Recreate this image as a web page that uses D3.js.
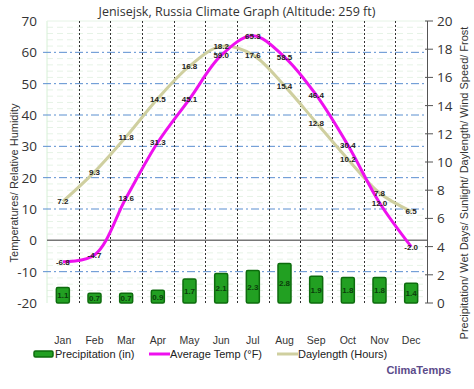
<!DOCTYPE html>
<html>
<head>
<meta charset="utf-8">
<script src="https://cdn.jsdelivr.net/npm/d3@7"></script>
<style>
	body { margin: 0; background: #fff; }
	svg { display: block; font-family: 'Liberation Sans', Arial, sans-serif; }
	.tick-label { font-family: 'Open Sans', sans-serif; font-size: 13.5px; fill: #333; }
	.point-label { font-size: 8px; font-weight: bold; fill: #222; }
</style>
</head>
<body>
<div class="container"></div>
<script>
var months = ['Jan', 'Feb', 'Mar', 'Apr', 'May', 'Jun', 'Jul', 'Aug', 'Sep', 'Oct', 'Nov', 'Dec'];
var precipitation = [1.1, 0.7, 0.7, 0.9, 1.7, 2.1, 2.3, 2.8, 1.9, 1.8, 1.8, 1.4];
var avgTemp = [-6.8, -4.7, 13.6, 31.3, 45.1, 59.0, 65.3, 58.5, 46.4, 30.4, 12.0, -2.0];
var daylength = [7.2, 9.3, 11.8, 14.5, 16.8, 18.2, 17.6, 15.4, 12.8, 10.2, 7.8, 6.5];
var leftTicks = [-20, -10, 0, 10, 20, 30, 40, 50, 60, 70];
var rightTicks = [0, 2, 4, 6, 8, 10, 12, 14, 16, 18, 20];

var width = 474,
	height = 389,
	plotLeft = 47,
	plotRight = 427,
	plotTop = 21,
	plotBottom = 303;

var svg = d3.select('.container')
	.append('svg')
	.attr('width', width)
	.attr('height', height);

var x = d3.scaleBand()
	.domain(months)
	.range([plotLeft, plotRight]);

var yLeft = d3.scaleLinear()
	.domain([-20, 70])
	.range([plotBottom, plotTop]);

var yRight = d3.scaleLinear()
	.domain([0, 20])
	.range([plotBottom, plotTop]);

var cx = function (d, i) { return x(months[i]) + x.bandwidth() / 2; };

// title
svg.append('text')
	.attr('x', 237)
	.attr('y', 16)
	.attr('text-anchor', 'middle')
	.style('font-family', "'Open Sans', sans-serif")
	.style('font-size', '12.5px')
	.style('fill', '#333')
	.text('Jenisejsk, Russia Climate Graph (Altitude: 259 ft)');

// minor grid, every 2 units
var grid = svg.append('g').classed('grid', true);

grid.selectAll('.minor')
	.data(d3.range(-18, 70, 2).filter(function (v) { return v % 10 !== 0; }))
	.enter().append('line')
	.attr('x1', plotLeft)
	.attr('x2', plotRight)
	.attr('y1', function (d) { return yLeft(d); })
	.attr('y2', function (d) { return yLeft(d); })
	.style('stroke', '#e6f3e6')
	.style('stroke-dasharray', '6,4');

grid.append('line')
	.attr('x1', plotLeft).attr('x2', plotLeft)
	.attr('y1', plotTop).attr('y2', plotBottom)
	.style('stroke', '#d6f0d6');

grid.append('line')
	.attr('x1', plotLeft).attr('x2', plotRight)
	.attr('y1', plotTop).attr('y2', plotTop)
	.style('stroke', '#e6f4e6');

// major grid
grid.selectAll('.major')
	.data(leftTicks.filter(function (v) { return v !== 0 && v !== 70 && v !== -20; }))
	.enter().append('line')
	.attr('x1', plotLeft - 4)
	.attr('x2', plotRight)
	.attr('y1', function (d) { return yLeft(d); })
	.attr('y2', function (d) { return yLeft(d); })
	.style('stroke', '#5b8fd0')
	.style('stroke-dasharray', '8,3,2,3');

// month separators
grid.selectAll('.sep')
	.data(months.slice(1))
	.enter().append('line')
	.attr('x1', function (d) { return Math.round(x(d)) + 0.5; })
	.attr('x2', function (d) { return Math.round(x(d)) + 0.5; })
	.attr('y1', plotTop)
	.attr('y2', plotBottom + 2)
	.style('stroke', '#333')
	.style('stroke-dasharray', '2,2');

// zero line
svg.append('line')
	.attr('x1', plotLeft)
	.attr('x2', plotRight)
	.attr('y1', yLeft(0))
	.attr('y2', yLeft(0))
	.style('stroke', '#777')
	.style('stroke-width', 1.5);

// left tick labels
svg.selectAll('.left-tick')
	.data(leftTicks)
	.enter().append('text')
	.classed('tick-label', true)
	.attr('x', 37)
	.attr('y', function (d) { return yLeft(d) + 5; })
	.attr('text-anchor', 'end')
	.text(function (d) { return d; });

// right axis
var rightAxis = svg.append('g')
	.attr('transform', 'translate(' + plotRight + ',0)');

rightAxis.append('line')
	.attr('x1', 0.5).attr('x2', 0.5)
	.attr('y1', plotTop).attr('y2', plotBottom)
	.style('stroke', '#555');

rightAxis.selectAll('.tick')
	.data(rightTicks)
	.enter().append('line')
	.attr('x1', -2)
	.attr('x2', 6)
	.attr('y1', function (d) { return yRight(d); })
	.attr('y2', function (d) { return yRight(d); })
	.style('stroke', '#555');

rightAxis.selectAll('.tick-label')
	.data(rightTicks)
	.enter().append('text')
	.classed('tick-label', true)
	.attr('x', 10)
	.attr('y', function (d) { return yRight(d) + 5; })
	.text(function (d) { return d; });

// axis titles
svg.append('text')
	.attr('transform', 'translate(18,183) rotate(-90)')
	.attr('text-anchor', 'middle')
	.style('font-size', '11px')
	.style('fill', '#333')
	.text('Temperatures/ Relative Humidity');

svg.append('text')
	.attr('transform', 'translate(468,183) rotate(-90)')
	.attr('text-anchor', 'middle')
	.style('font-size', '11px')
	.style('fill', '#333')
	.text('Precipitation/ Wet Days/ Sunlight/ Daylength/ Wind Speed/ Frost');

// month labels
svg.selectAll('.month')
	.data(months)
	.enter().append('text')
	.attr('x', cx)
	.attr('y', 344)
	.attr('text-anchor', 'middle')
	.style('font-size', '10.5px')
	.style('fill', '#333')
	.text(function (d) { return d; });

// precipitation bars
var barWidth = 13;

svg.selectAll('.bar')
	.data(precipitation)
	.enter().append('rect')
	.attr('x', function (d, i) { return cx(d, i) - barWidth / 2; })
	.attr('y', function (d) { return yRight(d); })
	.attr('width', barWidth)
	.attr('height', function (d) { return yRight(0) - yRight(d); })
	.attr('rx', 1.5)
	.style('fill', '#22a022')
	.style('stroke', '#0d6b0d')
	.style('stroke-width', 1.5);

svg.selectAll('.bar-label')
	.data(precipitation)
	.enter().append('text')
	.classed('point-label', true)
	.attr('x', cx)
	.attr('y', function (d) { return (yRight(d) + yRight(0)) / 2 + 3; })
	.attr('text-anchor', 'middle')
	.style('fill', '#0b3d0b')
	.text(function (d) { return d.toFixed(1); });

// lines
var dayLine = d3.line()
	.x(cx)
	.y(function (d) { return yRight(d); })
	.curve(d3.curveCatmullRom.alpha(0.5));

var tempLine = d3.line()
	.x(cx)
	.y(function (d) { return yLeft(d); })
	.curve(d3.curveCatmullRom.alpha(0.5));

svg.append('path')
	.datum(daylength)
	.attr('d', dayLine)
	.style('fill', 'none')
	.style('stroke', '#cfcf9f')
	.style('stroke-width', 3);

svg.append('path')
	.datum(avgTemp)
	.attr('d', tempLine)
	.style('fill', 'none')
	.style('stroke', '#ee10ee')
	.style('stroke-width', 3);

svg.selectAll('.day-label')
	.data(daylength)
	.enter().append('text')
	.classed('point-label', true)
	.attr('x', cx)
	.attr('y', function (d) { return yRight(d) + 3; })
	.attr('text-anchor', 'middle')
	.text(function (d) { return d.toFixed(1); });

svg.selectAll('.temp-label')
	.data(avgTemp)
	.enter().append('text')
	.classed('point-label', true)
	.attr('x', cx)
	.attr('y', function (d) { return yLeft(d) + 3; })
	.attr('text-anchor', 'middle')
	.text(function (d) { return d.toFixed(1); });

// legend
var legend = svg.append('g').style('font-size', '11px');

legend.append('rect')
	.attr('x', 34).attr('y', 351)
	.attr('width', 19).attr('height', 6)
	.attr('rx', 1.5)
	.style('fill', '#22a022')
	.style('stroke', '#0d6b0d')
	.style('stroke-width', 1.5);

legend.append('text')
	.attr('x', 55).attr('y', 358)
	.style('fill', '#222')
	.text('Precipitation (in)');

legend.append('line')
	.attr('x1', 149).attr('x2', 170)
	.attr('y1', 354).attr('y2', 354)
	.style('stroke', '#ee10ee')
	.style('stroke-width', 3);

legend.append('text')
	.attr('x', 170).attr('y', 358)
	.style('fill', '#222')
	.text('Average Temp (°F)');

legend.append('line')
	.attr('x1', 277).attr('x2', 298)
	.attr('y1', 354).attr('y2', 354)
	.style('stroke', '#cfcf9f')
	.style('stroke-width', 3);

legend.append('text')
	.attr('x', 298).attr('y', 358)
	.style('fill', '#222')
	.text('Daylength (Hours)');

svg.append('text')
	.attr('x', 451).attr('y', 374)
	.attr('text-anchor', 'end')
	.style('font-size', '11px')
	.style('font-weight', 'bold')
	.style('fill', '#5b4b8a')
	.text('ClimaTemps');
</script>
</body>
</html>
